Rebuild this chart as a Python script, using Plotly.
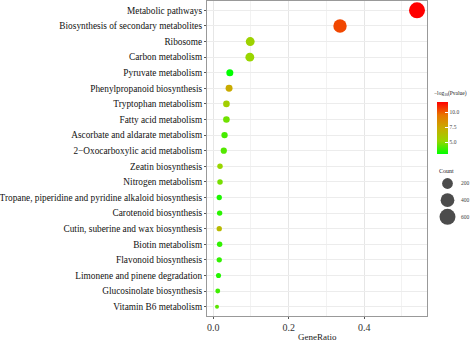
import plotly.graph_objects as go
import numpy as np

pathways = [
    "Metabolic pathways",
    "Biosynthesis of secondary metabolites",
    "Ribosome",
    "Carbon metabolism",
    "Pyruvate metabolism",
    "Phenylpropanoid biosynthesis",
    "Tryptophan metabolism",
    "Fatty acid metabolism",
    "Ascorbate and aldarate metabolism",
    "2\u2212Oxocarboxylic acid metabolism",
    "Zeatin biosynthesis",
    "Nitrogen metabolism",
    "Tropane, piperidine and pyridine alkaloid biosynthesis",
    "Carotenoid biosynthesis",
    "Cutin, suberine and wax biosynthesis",
    "Biotin metabolism",
    "Flavonoid biosynthesis",
    "Limonene and pinene degradation",
    "Glucosinolate biosynthesis",
    "Vitamin B6 metabolism",
]
gene_ratio = [0.540, 0.336, 0.098, 0.097, 0.044, 0.042, 0.035, 0.035, 0.030, 0.028,
              0.018, 0.018, 0.016, 0.017, 0.016, 0.017, 0.016, 0.014, 0.012, 0.010]
counts = [605, 376, 110, 109, 49, 47, 39, 39, 34, 31,
          20, 20, 18, 19, 18, 19, 18, 16, 14, 11]
neglog_p = [11.7, 10.4, 5.4, 5.2, 3.0, 7.35, 5.6, 4.6, 4.0, 4.2,
            5.2, 4.7, 3.4, 3.6, 6.6, 3.7, 3.7, 3.5, 3.9, 4.3]
legend_counts = [200, 400, 600]
cbar_ticks = [5.0, 7.5, 10.0]
cbar_ticklabels = ["5.0", "7.5", "10.0"]
x_ticks = [0.0, 0.2, 0.4]
x_ticklabels = ["0.0", "0.2", "0.4"]

FONT = "Liberation Serif"
cmin_c, cmax_c = min(counts), max(counts)

def size_of(c):
    return 4 + 12 * np.sqrt((np.asarray(c) - cmin_c) / (cmax_c - cmin_c))

colorscale = [
    [0.0, "#00FF00"],
    [0.25, "#98D600"],
    [0.5, "#C9AB00"],
    [0.75, "#E87600"],
    [1.0, "#FF0000"],
]

W, H = 474, 353
ml, mr, mt, mb = 207, 2, 1, 37
pw = W - ml - mr
ph = H - mt - mb
main_right = 220 / pw

def px_x(x):
    return (x - ml) / pw

def px_y(y):
    return (H - mb - y) / ph

fig = go.Figure()
fig.add_trace(go.Scatter(
    x=gene_ratio, y=pathways, mode="markers",
    marker=dict(
        size=size_of(counts), color=neglog_p, colorscale=colorscale,
        cmin=min(neglog_p), cmax=max(neglog_p), line=dict(width=0), opacity=1,
        colorbar=dict(
            x=px_x(437), xanchor="left", xref="paper", xpad=0, ypad=0,
            y=px_y(128), yanchor="middle", yref="paper",
            len=52, lenmode="pixels", thickness=11, thicknessmode="pixels",
            outlinewidth=0, ticks="inside", tickcolor="white", ticklen=3,
            tickvals=cbar_ticks, ticktext=cbar_ticklabels,
            tickfont=dict(family=FONT, size=5.5, color="#444"),
        ),
    ),
    showlegend=False, hoverinfo="x+y", cliponaxis=False,
))

# size legend keys
fig.add_trace(go.Scatter(
    x=[0.5, 0.5, 0.5], y=[str(c) for c in legend_counts], mode="markers",
    marker=dict(size=size_of(legend_counts), color="black", line=dict(width=0)),
    xaxis="x2", yaxis="y2", showlegend=False, hoverinfo="skip", cliponaxis=False,
))

fig.update_layout(
    width=W, height=H,
    margin=dict(l=ml, r=mr, t=mt, b=mb, autoexpand=False),
    paper_bgcolor="white", plot_bgcolor="white",
    font=dict(family=FONT, color="#1a1a1a"),
    xaxis=dict(
        domain=[0, main_right], range=[-0.0165, 0.5665], automargin=False,
        tickvals=x_ticks, ticktext=x_ticklabels,
        tickfont=dict(family=FONT, size=10, color="#333"),
        ticks="outside", ticklen=2, tickcolor="#555",
        showgrid=True, gridcolor="#e6e6e6", gridwidth=1,
        minor=dict(dtick=0.1, tick0=0, showgrid=True, gridcolor="#f2f2f2", gridwidth=1),
        zeroline=False,
        showline=True, linecolor="#999", linewidth=1, mirror=True,
    ),
    yaxis=dict(
        categoryorder="array", categoryarray=pathways[::-1], automargin=False,
        range=[-0.6, len(pathways) - 0.4],
        tickfont=dict(family=FONT, size=9.3, color="#111"),
        ticks="outside", ticklen=2, tickcolor="#555",
        showgrid=True, gridcolor="#ececec", gridwidth=1,
        zeroline=False,
        showline=True, linecolor="#999", linewidth=1, mirror=True,
    ),
    xaxis2=dict(domain=[px_x(441), px_x(454)], range=[0, 1], automargin=False,
                visible=False, fixedrange=True),
    yaxis2=dict(domain=[px_y(226), px_y(176)], automargin=False,
                categoryorder="array", categoryarray=[str(c) for c in legend_counts[::-1]],
                range=[-0.55, 2.45], anchor="x2", side="right",
                showgrid=False, zeroline=False, showline=False, ticks="",
                autorange=False,
                tickfont=dict(family=FONT, size=5.5, color="#444"), ticklabelstandoff=6),
    annotations=[
        dict(text="\u2212log<sub>10</sub>(Pvalue)", x=px_x(432), y=px_y(94),
             xref="paper", yref="paper", xanchor="left", yanchor="middle",
             showarrow=False, font=dict(family=FONT, size=5.5, color="#222")),
        dict(text="Count", x=px_x(437), y=px_y(171), xref="paper", yref="paper",
             xanchor="left", yanchor="middle", showarrow=False,
             font=dict(family=FONT, size=6, color="#222")),
        dict(text="GeneRatio", x=px_x(317), y=px_y(337), xref="paper", yref="paper",
             xanchor="center", yanchor="middle", showarrow=False,
             font=dict(family=FONT, size=9, color="#222")),
    ],
)

fig.write_html("out.html")
